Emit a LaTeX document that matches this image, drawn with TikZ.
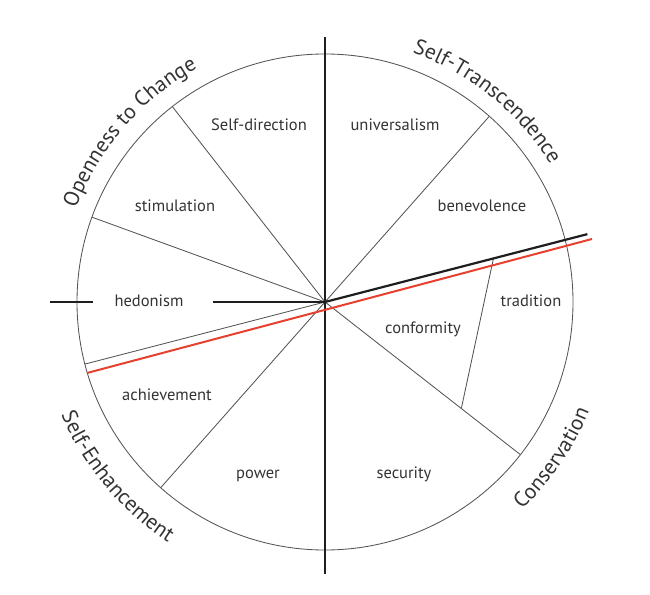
\documentclass[tikz,border=0pt]{standalone}
\usepackage{fontspec}
\setmainfont{PT Sans}
\usetikzlibrary{decorations.text}
\definecolor{InkGray}{HTML}{333333}
\definecolor{RuleGray}{HTML}{555555}
\definecolor{AxisBlack}{HTML}{1E1E1E}
\definecolor{SplitRed}{HTML}{E8402F}
\newcommand\arcfont{\fontsize{21.5}{25}\selectfont\color{InkGray}}
\tikzset{
  spoke/.style={line width=0.85pt,draw=RuleGray},
  axisline/.style={line width=2.2pt,draw=AxisBlack},
  redline/.style={line width=2pt,draw=SplitRed},
  value/.style={font=\fontsize{16.5}{19}\selectfont,text=InkGray,
    inner sep=0pt,anchor=base},
  arclabel/.style={decorate,decoration={text along path,text align=center,
    text={|\arcfont|#1}}},
}

\begin{document}
\begin{tikzpicture}[x=1pt,y=1pt]
  \useasboundingbox (-325,-292) rectangle (325,302);
  \coordinate (O) at (0,0);
  \draw[spoke] (O) circle[radius=248];
  % boundaries between values
  \foreach \a in {48.5,128,160,194.5,228.5,322}
    \draw[spoke] (O) -- (\a:248);
  \coordinate (tr1) at (14.5:174);
  \coordinate (tr2) at (322:173);
  \draw[spoke] (tr1) -- (tr2);
  % axes
  \draw[axisline] (0,265) -- (0,-272);
  \draw[axisline] (O) -- (14.5:271);
  \draw[axisline] (-275,0) -- (-232,0);
  \draw[axisline] (-112,0) -- (O);
  \draw[redline] (-238,-71) -- (267,63);
  % values
  \node[value] (sd)  at (-66,171)  {Self-direction};
  \node[value] (uni) at (70,171)   {universalism};
  \node[value] (sti) at (-150,90)  {stimulation};
  \node[value] (ben) at (157,90)   {benevolence};
  \node[value] (hed) at (-176,-5)  {hedonism};
  \node[value] (tra) at (206,-5)   {tradition};
  \node[value] (con) at (98,-31)   {conformity};
  \node[value] (ach) at (-158,-98) {achievement};
  \node[value] (pow) at (-67,-176) {power};
  \node[value] (sec) at (79,-176)  {security};
  % higher order values
  \path[arclabel={Openness to Change}] (174:266) arc[start angle=174,end angle=104,radius=266];
  \path[arclabel={Self-Transcendence}] (86:264) arc[start angle=86,end angle=16,radius=264];
  \path[arclabel={Self-Enhancement}] (185:287) arc[start angle=185,end angle=255,radius=287];
  \path[arclabel={Conservation}] (-70:286) arc[start angle=-70,end angle=1,radius=286];
\end{tikzpicture}
\end{document}
